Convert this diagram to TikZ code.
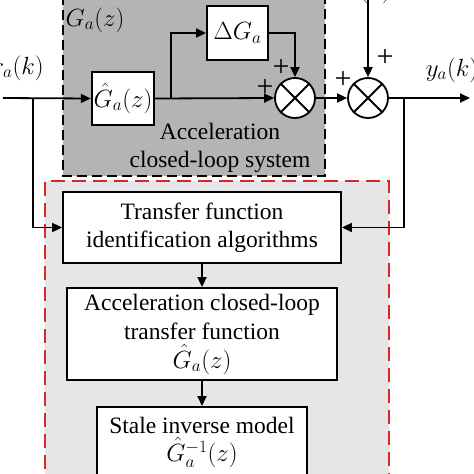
\documentclass[tikz,border=0pt]{standalone}
\usepackage{fontspec}
\setmainfont{Liberation Serif}
\usepackage{xcolor}
\usetikzlibrary{arrows.meta,calc,positioning,shapes}
\definecolor{sysgray}{RGB}{180,180,180}
\definecolor{idgray}{RGB}{230,230,233}
\definecolor{idred}{RGB}{214,40,40}

\begin{document}
\begin{tikzpicture}[x=1pt,y=-1pt,line width=1.8pt,
	font=\fontsize{23.5}{28}\selectfont,
	blk/.style={draw,fill=white,align=center,inner sep=2pt},
	sum/.style={draw,fill=white,circle,minimum size=40pt,inner sep=0pt},
	sgn/.style={font=\fontsize{30}{30}\selectfont,inner sep=0pt},
	arr/.style={-{Triangle[length=10pt,width=9pt]}}]
	\useasboundingbox (0,0) rectangle (474,474);
	\clip (0,0) rectangle (474,474);
	% closed-loop system and identification areas
	\fill[sysgray] (63,-5) rectangle (325,176);
	\draw[dash pattern=on 10pt off 5pt] (63,-5) -- (63,176) -- (325,176) -- (325,-5);
	\fill[idgray] (45,181) rectangle (389,490);
	\draw[idred,dash pattern=on 14pt off 7pt] (45,490) -- (45,181) -- (389,181) -- (389,490);
	% blocks
	\node[blk,minimum width=62pt,minimum height=53pt] (gh) at (123,98.5) {$\hat{G}_a(z)$};
	\node[blk,minimum width=61pt,minimum height=54pt] (dg) at (237.5,33) {$\Delta G_a$};
	\node[sum] (s1) at (295,98) {};
	\node[sum] (s2) at (368,98) {};
	\draw (s1.north west) -- (s1.south east) (s1.north east) -- (s1.south west);
	\draw (s2.north west) -- (s2.south east) (s2.north east) -- (s2.south west);
	\node[blk,minimum width=278pt,minimum height=71pt] (tf) at (202,227.5) {Transfer function\\identification algorithms};
	\node[blk,minimum width=270pt,minimum height=92pt,inner sep=0pt,
		font=\fontsize{23.5}{29}\selectfont] (acl) at (202,334) {Acceleration closed-loop\\transfer function\\$\hat{G}_a(z)$};
	\node[blk,minimum width=210pt,anchor=north,inner ysep=10pt,text depth=40pt] (sim) at (202,406) {Stale inverse model\\$\hat{G}_a^{-1}(z)$};
	% labels
	\node (ga) at (95,20) {$G_a(z)$};
	\node[align=center] (acs) at (220,148) {Acceleration\\closed-loop system};
	\node (rk) at (18,68) {$r_a(k)$};
	\node (yk) at (452,70) {$y_a(k)$};
	\node (nk) at (368,-9) {$n(k)$};
	\node[sgn] (p1) at (281,68) {+};
	\node[sgn] (p2) at (265,88) {+};
	\node[sgn] (p3) at (343,80) {+};
	\node[sgn] (p4) at (385,58) {+};
	% signal paths
	\coordinate (in) at (3,98);
	\coordinate (inb) at (33,98);
	\coordinate (br) at (171,98);
	\coordinate (nin) at (368,0);
	\coordinate (outb) at (404,98);
	\coordinate (out) at (470,98);
	\draw[arr] (in) -- (gh.west);
	\draw[arr] (gh.east) -- (s1.west);
	\draw[arr] (br) |- (dg.west);
	\draw[arr] (dg.east) -| (s1.north);
	\draw[arr] (s1.east) -- (s2.west);
	\draw[arr] (nin) -- (s2.north);
	\draw[arr] (s2.east) -- (out);
	\draw[arr] (inb) |- (tf.west);
	\draw[arr] (outb) |- (tf.east);
	\draw[arr] (tf.south) -- (acl.north);
	\draw[arr] (acl.south) -- (sim.north);
\end{tikzpicture}
\end{document}
